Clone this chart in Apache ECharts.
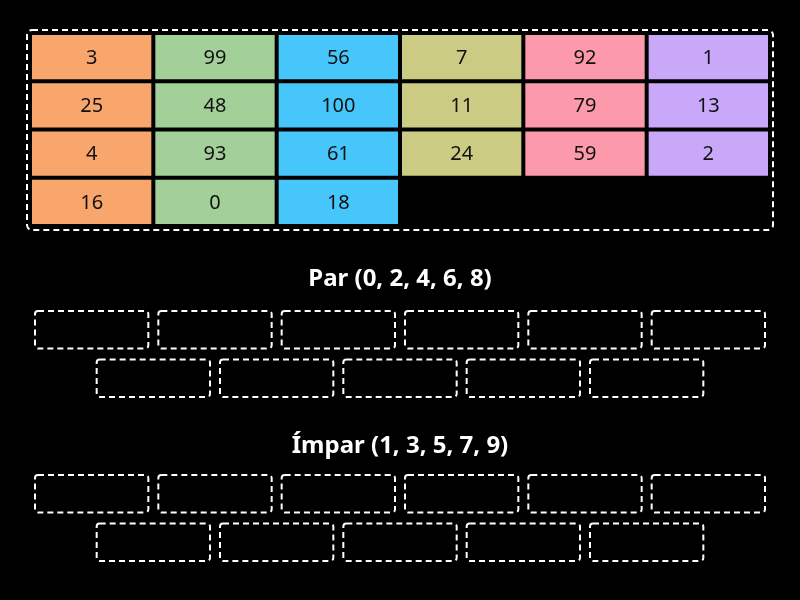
<!DOCTYPE html>
<html>
<head>
<meta charset="utf-8">
<style>
  html, body { margin: 0; padding: 0; background: #000; }
  #chart { width: 800px; height: 600px; }
</style>
<script src="https://cdn.jsdelivr.net/npm/echarts@6/dist/echarts.min.js"></script>
</head>
<body>
<div id="chart"></div>
<script>
// cards, one array per column (top to bottom)
const columns = [
  [3, 25, 4, 16],
  [99, 48, 93, 0],
  [56, 100, 61, 18],
  [7, 11, 24],
  [92, 79, 59],
  [1, 13, 2],
];
const columnColors = ['#f9a66c', '#a3cf98', '#47c6fb', '#cccb84', '#fc9aab', '#c9a8f9'];
const groupTitles = ['Par (0, 2, 4, 6, 8)', 'Ímpar (1, 3, 5, 7, 9)'];
// empty drop slots: row 0 has 6, row 1 has 5 shifted by half a slot
const slotRow0 = [0, 1, 2, 3, 4, 5];
const slotRow1 = [0.5, 1.5, 2.5, 3.5, 4.5];

const font = '"Noto Sans", "Open Sans", sans-serif';

const cards = [];
columns.forEach((col, c) => col.forEach((v, r) => cards.push([c, r, v])));

const slots = [];
slotRow0.forEach((s) => slots.push([s, 0]));
slotRow1.forEach((s) => slots.push([s, 1]));

const hiddenAxis = { show: false };

const renderCard = (params, api) => {
  const c = api.value(0);
  const p = api.coord([c, api.value(1)]);
  const size = api.size([1, 1]);
  const w = size[0] - 4;
  const h = size[1] - 4;
  return {
    type: 'group',
    children: [
      {
        type: 'rect',
        shape: { x: p[0] - w / 2, y: p[1] - h / 2, width: w, height: h },
        style: { fill: columnColors[c] },
      },
      {
        type: 'text',
        style: {
          text: String(api.value(2)), x: p[0], y: p[1] + 1,
          align: 'center', verticalAlign: 'middle',
          fill: '#111', font: `20px ${font}`,
        },
      },
    ],
  };
};

const renderSlot = (params, api) => {
  const p0 = api.coord([api.value(0), api.value(1)]);
  const p1 = api.coord([api.value(0) + 1, api.value(1) + 1]);
  return {
    type: 'rect',
    shape: { x: p0[0] + 5, y: p0[1], width: p1[0] - p0[0] - 10, height: p1[1] - p0[1] - 11, r: 3 },
    style: { fill: 'none', stroke: '#fff', lineWidth: 2, lineDash: [6, 4] },
  };
};

const chart = echarts.init(document.getElementById('chart'));
chart.setOption({
  backgroundColor: '#000',
  animation: false,
  title: [
    { text: groupTitles[0], left: 'center', top: 262, textStyle: { color: '#fff', fontSize: 24, fontFamily: font, fontWeight: 'bold' } },
    { text: groupTitles[1], left: 'center', top: 429, textStyle: { color: '#fff', fontSize: 24, fontFamily: font, fontWeight: 'bold' } },
  ],
  graphic: [{
    type: 'rect',
    shape: { x: 27, y: 30, width: 746, height: 200, r: 5 },
    style: { fill: 'none', stroke: '#fff', lineWidth: 2, lineDash: [6, 4] },
  }],
  grid: [
    { left: 30, width: 740, top: 33, height: 193 },
    { left: 30, width: 740, top: 311, height: 97 },
    { left: 30, width: 740, top: 475, height: 97 },
  ],
  xAxis: [
    { ...hiddenAxis, type: 'category', data: columns.map((_, i) => i), gridIndex: 0 },
    { ...hiddenAxis, type: 'value', min: 0, max: 6, gridIndex: 1 },
    { ...hiddenAxis, type: 'value', min: 0, max: 6, gridIndex: 2 },
  ],
  yAxis: [
    { ...hiddenAxis, type: 'category', data: [0, 1, 2, 3], inverse: true, gridIndex: 0 },
    { ...hiddenAxis, type: 'value', min: 0, max: 2, inverse: true, gridIndex: 1 },
    { ...hiddenAxis, type: 'value', min: 0, max: 2, inverse: true, gridIndex: 2 },
  ],
  series: [
    { type: 'custom', xAxisIndex: 0, yAxisIndex: 0, data: cards, renderItem: renderCard },
    { type: 'custom', xAxisIndex: 1, yAxisIndex: 1, data: slots, renderItem: renderSlot },
    { type: 'custom', xAxisIndex: 2, yAxisIndex: 2, data: slots, renderItem: renderSlot },
  ],
});
</script>
</body>
</html>
